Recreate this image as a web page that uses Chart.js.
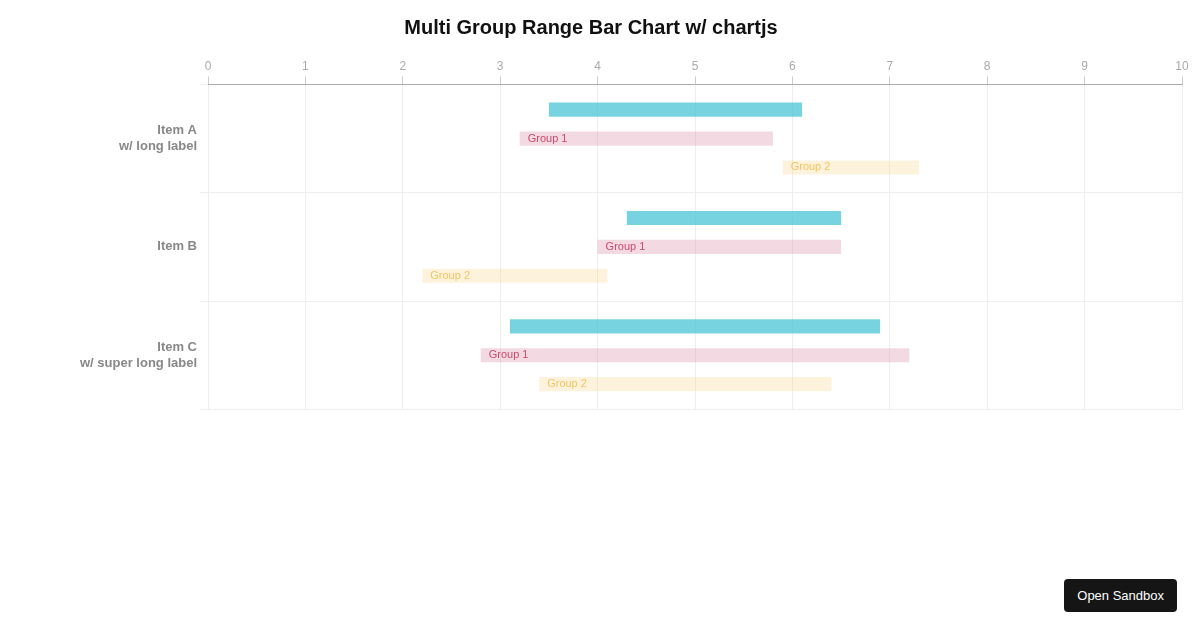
<!DOCTYPE html>
<html>
<head>
<meta charset="utf-8">
<script src="https://cdn.jsdelivr.net/npm/chart.js@4"></script>
<style>
  body { margin: 0; background: #fff; font-family: 'Liberation Sans', sans-serif; }
  .wrap { position: relative; width: 1200px; height: 428px; }
  .btn { position: fixed; right: 23px; bottom: 18px; background: #151515; color: #fff;
         font-size: 13px; padding: 9px 13px; border-radius: 4px; }
</style>
</head>
<body>
<div class="wrap"><canvas id="myChart"></canvas></div>
<div class="btn">Open Sandbox</div>
<script>
const categories = [['Item A', 'w/ long label'], 'Item B', ['Item C', 'w/ super long label']];
const mainRanges = [[3.5, 6.1], [4.3, 6.5], [3.1, 6.9]];
const group1Ranges = [[3.2, 5.8], [4.0, 6.5], [2.8, 7.2]];
const group2Ranges = [[5.9, 7.3], [2.2, 4.1], [3.4, 6.4]];

const ctx = document.getElementById('myChart');

// writes the dataset name at the left end of each bar
const barLabels = {
  id: 'barLabels',
  afterDatasetsDraw(chart) {
    const c = chart.ctx;
    chart.data.datasets.forEach((ds, i) => {
      if (!ds.textColor) return;
      chart.getDatasetMeta(i).data.forEach(bar => {
        c.save();
        c.font = '11px "Liberation Sans", sans-serif';
        c.fillStyle = ds.textColor;
        c.textBaseline = 'middle';
        c.fillText(ds.label, Math.min(bar.x, bar.base) + 8, bar.y);
        c.restore();
      });
    });
  }
};

new Chart(ctx, {
  type: 'bar',
  data: {
    labels: categories,
    datasets: [
      { label: 'Main', data: mainRanges, backgroundColor: 'rgba(75,196,213,0.75)' },
      { label: 'Group 1', data: group1Ranges, backgroundColor: 'rgba(214,130,155,0.3)', textColor: '#cc4a72' },
      { label: 'Group 2', data: group2Ranges, backgroundColor: 'rgba(248,215,140,0.3)', textColor: '#f4c460' }
    ]
  },
  options: {
    indexAxis: 'y',
    responsive: true,
    maintainAspectRatio: false,
    animation: false,
    layout: { padding: { left: 0, right: 18, top: 0, bottom: 10 } },
    datasets: { bar: { categoryPercentage: 0.8, barPercentage: 0.49 } },
    plugins: {
      legend: { display: false },
      tooltip: { enabled: false },
      title: {
        display: true,
        text: 'Multi Group Range Bar Chart w/ chartjs',
        color: '#111',
        font: { family: 'Liberation Sans', size: 20, weight: 'bold' },
        padding: { top: 16, bottom: 16 }
      }
    },
    scales: {
      x: {
        position: 'top',
        min: 0,
        max: 10,
        ticks: { stepSize: 1, color: '#aaa', font: { family: 'Liberation Sans', size: 12 } },
        grid: { color: '#eee', tickColor: '#ccc' },
        border: { color: '#aaa' }
      },
      y: {
        afterFit(scale) { scale.width = 208; },
        ticks: { color: '#888', font: { family: 'Liberation Sans', size: 13, weight: 'bold' } },
        grid: { color: '#eee' },
        border: { display: false }
      }
    }
  },
  plugins: [barLabels]
});
</script>
</body>
</html>
